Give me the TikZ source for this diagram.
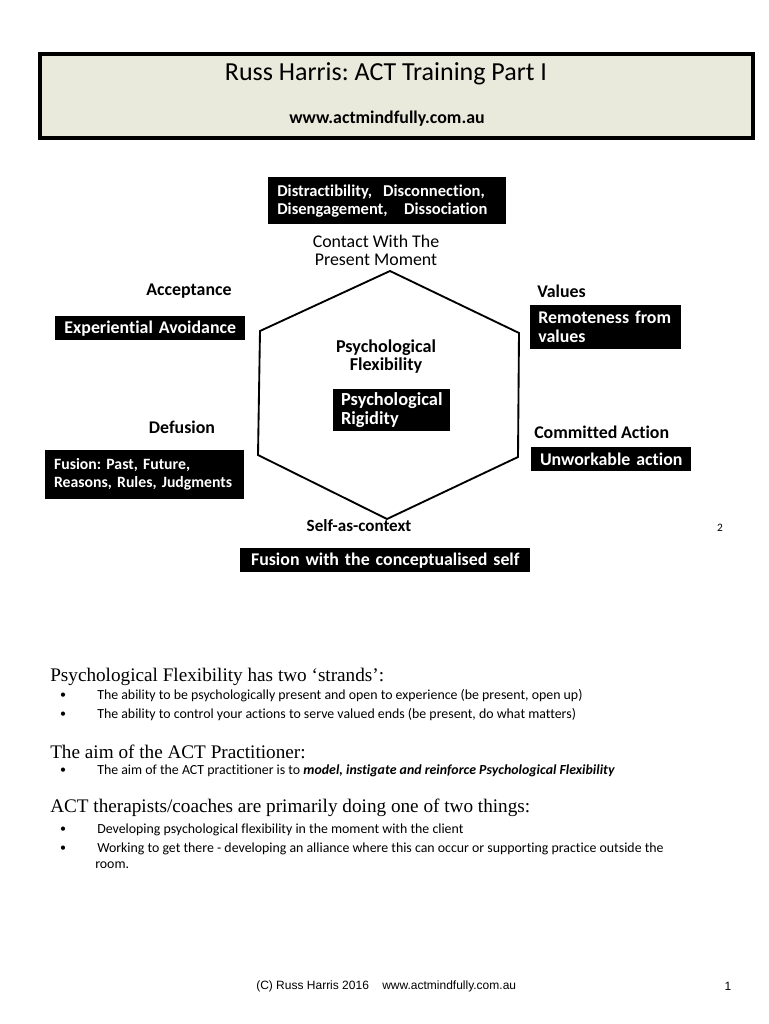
\documentclass[tikz,border=0pt]{standalone}
\usepackage{fontspec}
\setmainfont{Carlito}[Ligatures=NoCommon]
\newfontfamily\serifh{Liberation Serif}
\newfontfamily\arialf{Liberation Sans}
\frenchspacing
\newcommand{\bxf}[2]{\bfseries\fontsize{#1}{#2}\selectfont\spaceskip=0.21em plus 0.05em\relax}
\begin{document}
\begin{tikzpicture}[x=0.75pt,y=-0.75pt,
  blk/.style={fill=black, text=white, font=\bxf{13.4}{14.25}, inner sep=0pt, anchor=north west},
  lbl/.style={font=\bxf{13.4}{13.5}, inner sep=0pt},
  bodyt/.style={font=\fontsize{10.4}{12}\selectfont, inner sep=0pt, anchor=west},
  head/.style={font=\serifh\fontsize{14.4}{16}\selectfont, inner sep=0pt, anchor=west},
  bul/.style={font=\fontsize{9}{11}\selectfont, inner sep=0pt}
]
\useasboundingbox (0,0) rectangle (768,1024);
% header
\draw[line width=3pt, fill={rgb,255:red,233;green,234;blue,219}] (40,54) rectangle (753,138);
\node[font=\fontsize{19.5}{22}\selectfont, inner sep=0pt] (title) at (386,74) {Russ Harris: ACT Training Part I};
\node[font=\bfseries\fontsize{13.4}{15}\selectfont, inner sep=0pt] (url) at (387,119) {www.actmindfully.com.au};

% top box
\node[blk, minimum width=178.5pt, minimum height=35.25pt, text width=165pt, align=left, font=\bxf{12.4}{13.5}] (distr) at (268,177) {Distractibility,\ \ Disconnection,\\Disengagement,\ \ \ Dissociation};
\node[font=\fontsize{13.4}{13.5}\selectfont, inner sep=0pt, align=center] (contact) at (376,250) {Contact With The\\Present Moment};

% hexagon
\coordinate (ht) at (390,271);
\coordinate (hur) at (519,333);
\coordinate (hlr) at (518,457);
\coordinate (hb) at (387,519);
\coordinate (hll) at (258,455);
\coordinate (hul) at (260,331);
\draw[line width=1.4pt, line join=miter] (ht) -- (hur) -- (hlr) -- (hb) -- (hll) -- (hul) -- cycle;

\node[lbl, align=center, font=\bxf{13.6}{13.5}] (pf) at (386,357) {Psychological\\Flexibility};
\node[blk, minimum width=87.75pt, minimum height=31.5pt, text width=76pt, align=left, font=\bxf{13.8}{14.25}] (pr) at (333,389) {Psychological\\Rigidity};

% left
\node[lbl] (acc) at (189,291) {Acceptance};
\node[blk, minimum width=142.5pt, minimum height=18pt, text width=142.5pt, align=center] (ea) at (55,316) {Experiential Avoidance};
\node[lbl] (def) at (182,427) {Defusion};
\node[blk, minimum width=149.25pt, minimum height=36.75pt, text width=142pt, align=left, font=\bxf{11.8}{13.5}] (fus) at (45,450) {\hspace*{3pt}Fusion: Past, Future,\\\hspace*{3pt}Reasons, Rules, Judgments};

% right
\node[lbl, anchor=west] (val) at (537,291) {Values};
\node[blk, minimum width=113.25pt, minimum height=33pt, text width=101pt, align=left] (rem) at (530,305) {Remoteness from\\values};
\node[lbl, anchor=west] (ca) at (534,432) {Committed Action};
\node[blk, minimum width=120pt, minimum height=18pt, text width=120pt, align=center] (ua) at (531,447) {Unworkable action};

% bottom
\node[lbl, font=\bxf{12.8}{13.5}] (sac) at (359,526) {Self-as-context};
\node[blk, minimum width=217.5pt, minimum height=18pt, text width=217.5pt, align=center] (fcs) at (240,548) {Fusion with the conceptualised self};
\node[font=\fontsize{8.5}{10}\selectfont, inner sep=0pt] (p2) at (720,528) {2};

% text section
\node[head] (h1) at (50,677) {Psychological Flexibility has two ‘strands’:};
\node[bul] (b1a) at (63,696) {\textbullet};
\node[bodyt] (t1a) at (97,696) {The ability to be psychologically present and open to experience (be present, open up)};
\node[bul] (b1b) at (63,715) {\textbullet};
\node[bodyt] (t1b) at (97,715) {The ability to control your actions to serve valued ends (be present, do what matters)};

\node[head] (h2) at (50,752) {The aim of the ACT Practitioner:};
\node[bul] (b2a) at (63,771) {\textbullet};
\node[bodyt] (t2a) at (97,771) {The aim of the ACT practitioner is to \textbf{\textit{model, instigate and reinforce Psychological Flexibility}}};

\node[head] (h3) at (50,808) {ACT therapists/coaches are primarily doing one of two things:};
\node[bul] (b3a) at (63,830) {\textbullet};
\node[bodyt] (t3a) at (97,830) {Developing psychological flexibility in the moment with the client};
\node[bul] (b3b) at (63,849) {\textbullet};
\node[bodyt] (t3b) at (97,849) {Working to get there - developing an alliance where this can occur or supporting practice outside the};
\node[bodyt] (t3c) at (95,865) {room.};

% footer
\node[font=\arialf\fontsize{9}{10}\selectfont, inner sep=0pt, anchor=west] (foot) at (256,986) {(C) Russ Harris 2016\ \ \ \ www.actmindfully.com.au};
\node[font=\arialf\fontsize{9}{10}\selectfont, inner sep=0pt] (p1) at (728,986) {1};
\end{tikzpicture}
\end{document}
